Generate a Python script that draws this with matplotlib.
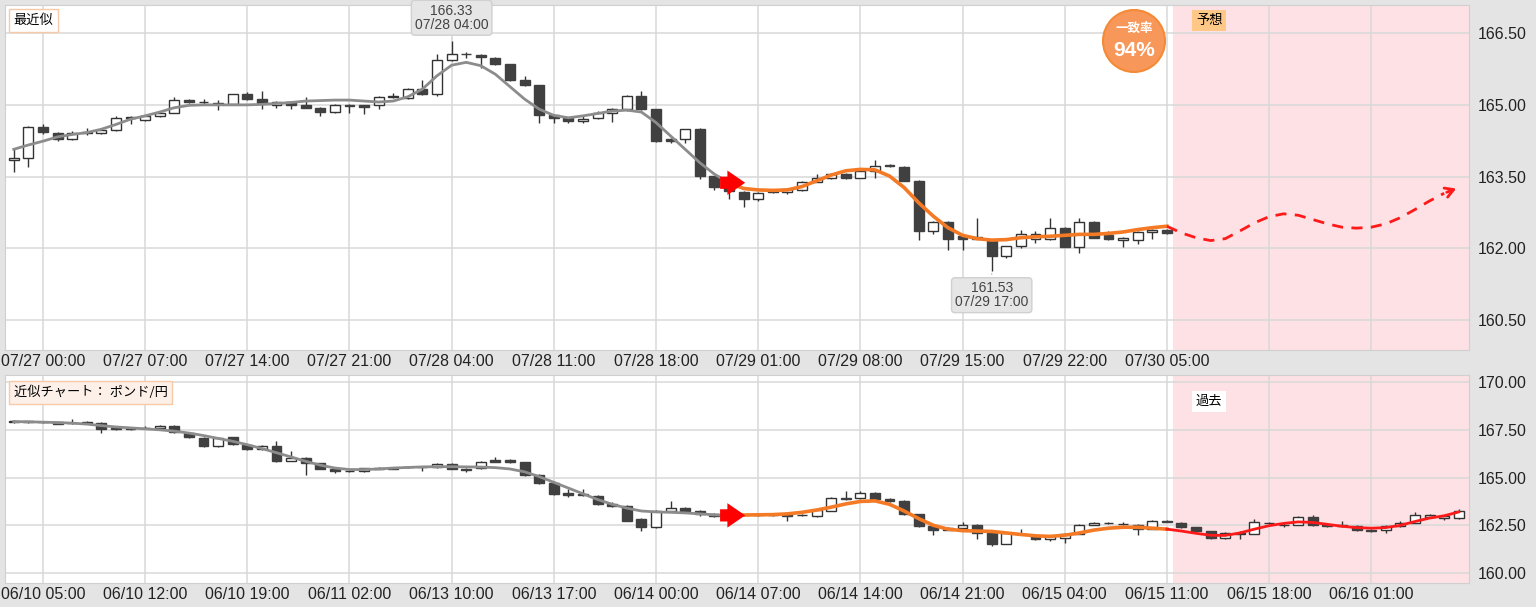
import matplotlib
matplotlib.use("Agg")
import matplotlib.pyplot as plt
import numpy as np
from matplotlib.patches import Circle

plt.rcParams['font.family'] = ['Liberation Sans', 'Noto Sans CJK JP', 'DejaVu Sans']

# ---------------- top panel data (hourly candles) ----------------
top_open = [163.85,163.88,164.54,164.42,164.28,164.41,164.41,164.47,164.72,164.68,
            164.76,164.84,165.10,165.05,165.02,165.02,165.22,165.12,164.99,165.06,
            165.00,164.94,164.85,165.00,164.99,164.99,165.17,165.15,165.34,165.22,
            165.93,166.07,166.04,165.99,165.85,165.52,165.41,164.79,164.73,164.66,
            164.73,164.84,164.91,165.19,164.91,164.29,164.29,164.49,163.51,163.30,
            163.17,163.02,163.17,163.18,163.22,163.39,163.47,163.55,163.47,163.62,
            163.74,163.70,163.41,162.35,162.55,162.25,162.24,162.15,161.83,162.04,
            162.20,162.20,162.43,162.03,162.55,162.27,162.18,162.18,162.34,162.39]
top_close = [163.88,164.54,164.43,164.29,164.42,164.44,164.48,164.73,164.74,164.77,
             164.84,165.10,165.05,165.06,165.03,165.22,165.12,165.04,165.06,164.99,
             164.94,164.85,165.00,164.97,164.96,165.17,165.18,165.34,165.22,165.93,
             166.06,166.06,166.01,165.85,165.52,165.41,164.79,164.73,164.66,164.71,
             164.84,164.91,165.19,164.91,164.24,164.24,164.49,163.51,163.29,163.20,
             163.02,163.16,163.19,163.23,163.39,163.47,163.55,163.47,163.62,163.73,
             163.72,163.41,162.35,162.55,162.20,162.20,162.20,161.83,162.04,162.30,
             162.30,162.43,162.03,162.55,162.22,162.20,162.22,162.34,162.39,162.32]
top_high = [164.07,164.56,164.60,164.44,164.45,164.52,164.50,164.76,164.76,164.79,
            164.86,165.16,165.12,165.13,165.10,165.23,165.26,165.28,165.08,165.09,
            165.16,164.95,165.01,165.01,165.00,165.18,165.25,165.36,165.52,166.06,
            166.33,166.10,166.06,166.01,165.86,165.60,165.42,164.81,164.75,164.78,
            164.88,164.93,165.20,165.30,164.92,164.30,164.50,164.51,163.52,163.32,
            163.19,163.18,163.21,163.26,163.41,163.56,163.57,163.57,163.64,163.85,
            163.76,163.72,163.42,162.57,162.56,162.27,162.63,162.16,162.05,162.38,
            162.37,162.63,162.45,162.63,162.56,162.35,162.24,162.36,162.40,162.41]
top_low = [163.60,163.69,164.40,164.24,164.27,164.36,164.40,164.46,164.60,164.66,
           164.75,164.83,165.04,165.00,164.90,165.01,165.10,164.92,164.93,164.92,
           164.93,164.76,164.84,164.83,164.80,164.92,165.14,165.13,165.20,165.18,
           165.92,165.98,165.78,165.84,165.50,165.40,164.62,164.62,164.62,164.63,
           164.70,164.64,164.88,164.89,164.22,164.20,164.20,163.45,163.22,163.02,
           162.86,162.98,163.15,163.13,163.20,163.38,163.45,163.45,163.46,163.46,
           163.70,163.40,162.17,162.30,161.97,161.97,162.19,161.53,161.80,162.00,
           162.10,162.18,162.02,161.90,162.21,162.18,162.03,162.08,162.20,162.30]
top_fit_past = [164.07,164.16,164.24,164.33,164.38,164.42,164.49,164.59,164.70,164.77,
                164.85,164.94,164.99,165.00,165.00,165.00,165.00,165.01,165.03,165.05,
                165.08,165.09,165.10,165.10,165.08,165.06,165.08,165.17,165.33,165.61,
                165.83,165.89,165.82,165.64,165.38,165.12,164.91,164.78,164.73,164.77,
                164.82,164.87,164.89,164.85,164.63,164.35,164.07,163.79,163.55,163.37]
top_fit_match = [163.37,163.25,163.22,163.21,163.22,163.29,163.41,163.53,163.62,163.65,
                 163.64,163.51,163.27,162.95,162.67,162.43,162.27,162.20,162.17,162.18,
                 162.22,162.24,162.25,162.27,162.29,162.29,162.31,162.34,162.39,162.43,162.46]
top_forecast = [162.46,162.32,162.22,162.16,162.20,162.36,162.53,162.66,162.72,162.69,
                162.60,162.51,162.44,162.42,162.44,162.51,162.64,162.81,162.99,163.15,163.27]
top_labels = ["07/27 00:00","07/27 07:00","07/27 14:00","07/27 21:00","07/28 04:00",
              "07/28 11:00","07/28 18:00","07/29 01:00","07/29 08:00","07/29 15:00",
              "07/29 22:00","07/30 05:00"]

# ---------------- bottom panel data ----------------
bot_open = [167.93,167.95,167.92,167.90,167.86,167.88,167.88,167.60,167.56,167.57,
            167.58,167.72,167.32,167.07,166.67,167.10,166.72,166.49,166.67,165.88,
            166.05,165.74,165.47,165.35,165.32,165.47,165.47,165.53,165.56,165.53,
            165.70,165.47,165.49,165.91,165.91,165.79,165.14,164.74,164.21,164.16,
            164.04,163.63,163.51,162.81,162.40,163.25,163.42,163.25,163.10,163.05,
            163.02,163.06,163.04,163.10,163.04,162.98,163.26,163.95,163.91,164.21,
            163.89,163.77,163.07,162.46,162.28,162.37,162.54,162.10,161.54,162.04,
            161.93,161.79,161.84,162.05,162.54,162.62,162.57,162.50,162.33,162.75,
            162.63,162.40,162.19,161.84,162.06,162.07,162.62,162.53,162.54,162.93,
            162.54,162.48,162.46,162.28,162.23,162.46,162.63,162.95,162.86,162.86]
bot_close = [167.95,167.92,167.91,167.81,167.88,167.89,167.54,167.55,167.57,167.59,
             167.72,167.37,167.11,166.67,167.07,166.75,166.49,166.67,165.88,166.05,
             165.74,165.47,165.35,165.36,165.49,165.48,165.48,165.54,165.57,165.70,
             165.47,165.40,165.84,165.84,165.79,165.14,164.74,164.16,164.09,164.09,
             163.60,163.51,162.75,162.40,163.25,163.42,163.25,163.07,162.98,163.00,
             163.03,163.08,163.06,162.98,163.06,163.28,163.91,163.86,164.21,163.86,
             163.77,163.07,162.46,162.28,162.37,162.54,162.10,161.54,162.10,162.05,
             161.79,161.93,162.02,162.54,162.63,162.63,162.58,162.33,162.75,162.68,
             162.40,162.19,161.84,162.10,162.07,162.68,162.63,162.54,162.93,162.50,
             162.46,162.49,162.23,162.19,162.46,162.63,163.04,163.05,162.98,163.25]
bot_high = [168.00,167.98,167.96,167.92,168.05,167.98,167.90,167.65,167.60,167.72,
            167.76,167.74,167.35,167.10,167.15,167.15,166.75,166.70,166.90,166.40,
            166.10,165.78,165.50,165.40,165.52,165.55,165.52,165.60,165.62,165.75,
            165.74,165.50,165.88,166.10,165.95,165.82,165.18,164.80,164.40,164.40,
            164.10,163.70,163.55,162.90,163.30,163.75,163.45,163.30,163.15,163.10,
            163.10,163.12,163.10,163.15,163.10,163.32,164.00,164.30,164.30,164.25,
            163.95,163.80,163.10,162.55,162.40,162.65,162.58,162.15,162.15,162.30,
            161.98,162.00,162.10,162.58,162.68,162.68,162.65,162.55,162.80,162.80,
            162.66,162.42,162.22,162.14,162.20,162.85,162.68,162.60,163.00,163.05,
            162.58,162.70,162.50,162.32,162.54,162.75,163.20,163.10,163.05,163.35]
bot_low = [167.88,167.88,167.86,167.78,167.82,167.84,167.35,167.48,167.50,167.55,
           167.56,167.35,167.05,166.60,166.62,166.72,166.45,166.45,165.80,165.85,
           165.15,165.45,165.25,165.30,165.28,165.44,165.44,165.48,165.35,165.50,
           165.45,165.30,165.46,165.80,165.75,165.10,164.65,164.10,164.00,164.05,
           163.55,163.45,162.70,162.20,162.35,163.20,163.22,163.00,162.95,162.95,
           162.98,163.00,163.00,162.75,163.00,162.95,163.24,163.84,163.88,163.80,
           163.74,163.05,162.42,162.00,162.25,162.34,161.80,161.40,161.52,162.00,
           161.75,161.70,161.60,162.02,162.50,162.58,162.50,162.00,162.30,162.65,
           162.36,162.16,161.80,161.80,161.80,162.05,162.58,162.40,162.50,162.45,
           162.42,162.40,162.20,162.15,162.10,162.42,162.60,162.90,162.80,162.82]
bot_fit_past = [167.93,167.92,167.90,167.88,167.85,167.80,167.72,167.65,167.60,167.55,
                167.50,167.43,167.33,167.20,167.05,166.90,166.72,166.52,166.30,166.08,
                165.85,165.65,165.50,165.42,165.42,165.45,165.50,165.53,165.56,165.57,
                165.57,165.56,165.55,165.52,165.45,165.30,165.05,164.75,164.45,164.15,
                163.85,163.60,163.40,163.25,163.20,163.18,163.15,163.10,163.05,163.02]
bot_fit_match = [163.02,163.04,163.05,163.06,163.10,163.18,163.30,163.45,163.62,163.75,
                 163.78,163.60,163.25,162.85,162.50,162.30,162.22,162.20,162.18,162.10,
                 162.02,161.95,161.92,161.98,162.10,162.25,162.35,162.40,162.40,162.35,162.30]
bot_fit_after = [162.30,162.20,162.08,161.98,161.97,162.10,162.30,162.48,162.60,162.68,
                 162.65,162.55,162.45,162.38,162.35,162.38,162.50,162.70,162.88,163.00,163.20]
bot_labels = ["06/10 05:00","06/10 12:00","06/10 19:00","06/11 02:00","06/13 10:00",
              "06/13 17:00","06/14 00:00","06/14 07:00","06/14 14:00","06/14 21:00",
              "06/15 04:00","06/15 11:00","06/15 18:00","06/16 01:00"]

W, H = 1536, 607
fig = plt.figure(figsize=(W/100, H/100), dpi=100)
fig.patch.set_facecolor('#e4e4e4')

def px_axes(x0, y0, x1, y1):
    return fig.add_axes([x0/W, 1-y1/H, (x1-x0)/W, (y1-y0)/H])

axt = px_axes(5, 5, 1469, 350)
axb = px_axes(5, 375, 1469, 583)

GRID = '#d9d9d9'
UP_EDGE = '#333333'
DN = '#404040'

def candles(ax, o, c, h, l):
    x = np.arange(len(o))
    o = np.array(o); c = np.array(c)
    lo = np.minimum(o, c); hi = np.maximum(o, c)
    ht = np.maximum(hi - lo, 0.012)
    up = c >= o
    ax.vlines(x, l, h, color='#333333', lw=1.0, zorder=3)
    ax.bar(x[up], ht[up], bottom=lo[up], width=0.68, color='white',
           edgecolor=UP_EDGE, lw=1.0, zorder=4)
    ax.bar(x[~up], ht[~up], bottom=lo[~up], width=0.68, color=DN,
           edgecolor=DN, lw=1.0, zorder=4)

def style(ax, ylim, yt, tick_idx, labels, extra):
    ax.set_facecolor('white')
    ax.set_xlim(-0.6, 99.7)
    ax.set_ylim(*ylim)
    ax.axvspan(79.45, 99.7, color='#fde1e4', zorder=0, lw=0)
    ax.set_yticks(yt)
    ax.set_yticklabels([f"{v:.2f}" for v in yt])
    ax.yaxis.tick_right()
    ax.set_xticks(tick_idx + extra)
    ax.set_xticklabels(labels + [''] * len(extra))
    ax.tick_params(length=0, labelsize=11.5, colors='#222222', pad=3)
    ax.tick_params(axis='y', pad=6)
    ax.grid(True, color=GRID, lw=1.1, zorder=1)
    for s in ax.spines.values():
        s.set_color('#d0d0d0')

top_ticks = [2 + 7*k for k in range(12)]
style(axt, (159.87, 167.09), [160.5, 162.0, 163.5, 165.0, 166.5], top_ticks, top_labels, [86, 93])
bot_ticks = [2 + 7*k for k in range(14)]
style(axb, (159.48, 170.37), [160.0, 162.5, 165.0, 167.5, 170.0], bot_ticks, bot_labels, [])

# top panel
candles(axt, top_open, top_close, top_high, top_low)
axt.plot(np.arange(len(top_fit_past)), top_fit_past, color='#8c8c8c', lw=2, zorder=5)
axt.plot(np.arange(49, 49+len(top_fit_match)), top_fit_match, color='#f47a25', lw=2.6, zorder=5)
fx = np.arange(79, 79+len(top_forecast))
axt.plot(fx[:-1], top_forecast[:-1], color='#ff1a1a', lw=2, ls=(0, (4, 3)), zorder=5)
axt.annotate('', xy=(fx[-1], top_forecast[-1]), xytext=(fx[-2], top_forecast[-2]),
             arrowprops=dict(arrowstyle='->,head_length=0.6,head_width=0.35', color='#ff1a1a', lw=2), zorder=6)

# bottom panel
candles(axb, bot_open, bot_close, bot_high, bot_low)
axb.plot(np.arange(len(bot_fit_past)), bot_fit_past, color='#8c8c8c', lw=2, zorder=5)
axb.plot(np.arange(49, 49+len(bot_fit_match)), bot_fit_match, color='#f47a25', lw=2.6, zorder=5)
axb.plot(np.arange(79, 79+len(bot_fit_after)), bot_fit_after, color='#ff1a1a', lw=2, zorder=5)

# red start arrows
for ax, v in ((axt, top_fit_match[0]), (axb, bot_fit_match[0])):
    ax.annotate('', xy=(50.3, v), xytext=(48.2, v),
                arrowprops=dict(arrowstyle='simple,head_width=1.1,head_length=0.8,tail_width=0.55',
                                color='#ff0000', lw=0, mutation_scale=16), zorder=7)

# extreme annotations
imax = int(np.argmax(top_high)); imin = int(np.argmin(top_low))
axt.annotate(f"{top_high[imax]:.2f}\n07/28 04:00", xy=(imax, top_high[imax]),
             xytext=(imax, top_high[imax] + 0.2), ha='center', va='bottom', fontsize=10,
             color='#444444', linespacing=1.0,
             bbox=dict(boxstyle='round,pad=0.25', fc='#e6e6e6', ec='#d0d0d0'),
             arrowprops=dict(arrowstyle='-', color='#cccccc', lw=1), zorder=8)
axt.annotate(f"{top_low[imin]:.2f}\n07/29 17:00", xy=(imin, top_low[imin]),
             xytext=(imin, top_low[imin] - 0.22), ha='center', va='top', fontsize=10,
             color='#444444', linespacing=1.0,
             bbox=dict(boxstyle='round,pad=0.25', fc='#e6e6e6', ec='#d0d0d0'),
             arrowprops=dict(arrowstyle='-', color='#cccccc', lw=1), zorder=8)

# labels
axt.text(0.006, 0.955, "最近似", transform=axt.transAxes, fontsize=9.5, va='center', ha='left',
         family=['Noto Sans CJK JP'], bbox=dict(boxstyle='square,pad=0.35', fc='white', ec='#f6c9a8'))
axb.text(0.006, 0.915, "近似チャート： ポンド/円", transform=axb.transAxes, fontsize=9.5, va='center',
         ha='left', family=['Noto Sans CJK JP'],
         bbox=dict(boxstyle='square,pad=0.35', fc='#fdf0e8', ec='#f6c9a8'))
axt.text(81.9, 166.76, "予想", fontsize=9.5, va='center', ha='center', family=['Noto Sans CJK JP'],
         bbox=dict(boxstyle='square,pad=0.3', fc='#ffc887', ec='none'), zorder=8)
axb.text(81.9, 169.0, "過去", fontsize=9.5, va='center', ha='center', family=['Noto Sans CJK JP'],
         bbox=dict(boxstyle='square,pad=0.3', fc='white', ec='none'), zorder=8)

# agreement badge
cx, cy, r = 1134, 41, 31
circ = Circle((cx/100, (H-cy)/100), r/100, transform=fig.dpi_scale_trans,
              fc='#f8975a', ec='#f58a36', lw=1.5, zorder=10)
fig.patches.append(circ)
fig.text(cx/W, 1-(cy-13)/H, "一致率", ha='center', va='center', color='white', fontsize=9,
         weight='bold', family=['Noto Sans CJK JP'], zorder=11)
fig.text(cx/W, 1-(cy+9)/H, "94%", ha='center', va='center', color='white', fontsize=15,
         weight='bold', zorder=11)

fig.savefig('out.png', dpi=100, facecolor=fig.get_facecolor())
